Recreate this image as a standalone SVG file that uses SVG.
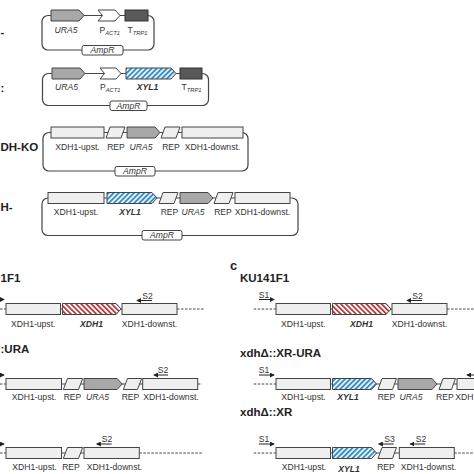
<svg xmlns="http://www.w3.org/2000/svg" width="474" height="474" viewBox="0 0 474 474">
<style>
text{font-family:"Liberation Sans",Arial,sans-serif;fill:#333}
.bx{fill:#efefef;stroke:#444;stroke-width:1}
.ura{fill:#a8a8a8;stroke:#444;stroke-width:1}
.trp{fill:#595959;stroke:#333;stroke-width:1}
.pro{fill:#fff;stroke:#444;stroke-width:1}
.xyl{fill:url(#hb);stroke:#444;stroke-width:1}
.xdh{fill:url(#hr);stroke:#444;stroke-width:1}
.bb{fill:none;stroke:#444;stroke-width:1.2}
.ln{fill:none;stroke:#444;stroke-width:1}
.dash{fill:none;stroke:#444;stroke-width:1;stroke-dasharray:2.5 1.5}
.amp{fill:#fff;stroke:#444;stroke-width:1}
.pr{stroke:#222;stroke-width:1;marker-end:url(#ah)}
.lbl{font-size:8.6px;text-anchor:middle}
.st{text-anchor:start}
.it{font-style:italic}
.bi{font-style:italic;font-weight:bold}
.sub{font-size:5.8px;font-style:italic}
.ttl{font-size:11.5px;font-weight:bold;fill:#222}
</style>
<defs>
<pattern id="hb" width="3.6" height="3.6" patternUnits="userSpaceOnUse" patternTransform="rotate(45)">
<rect width="3.6" height="3.6" fill="#e4f2fa"/><rect width="1.7" height="3.6" fill="#2f87c0"/>
</pattern>
<pattern id="hr" width="3.6" height="3.6" patternUnits="userSpaceOnUse" patternTransform="rotate(-45)">
<rect width="3.6" height="3.6" fill="#ffffff"/><rect width="1.7" height="3.6" fill="#b83232"/>
</pattern>
<marker id="ah" viewBox="0 0 6 6" refX="5" refY="3" markerWidth="5" markerHeight="5" markerUnits="userSpaceOnUse" orient="auto">
<path d="M0,0 L6,3 L0,6 Z" fill="#222"/>
</marker>
</defs>

<g id="connectors">
<rect class="bb" x="42" y="15.5" width="112" height="34.5" rx="6"/>
<rect class="bb" x="42.5" y="73.5" width="166" height="32" rx="6"/>
<rect class="bb" x="43" y="132.5" width="205" height="38.5" rx="6"/>
<rect class="bb" x="42" y="198" width="256" height="37.5" rx="6"/>
<path class="ln" d="M6,309 H177 M6,384 H197.7 M6,453 H139.3 M276,309 H447 M276,384 H474 M276,453 H454.3"/>
<path class="dash" d="M0,309 H6 M177,309 H204 M0,384 H6 M197.7,384 H202 M0,453 H6 M139.3,453 H202 M253.7,309 H276 M447,309 H474 M253.7,384 H276 M253.7,453 H276 M454.3,453 H474"/>
</g>

<g id="titles">
<text class="ttl" x="0.5" y="36">-</text>
<text class="ttl" x="0.5" y="92">:</text>
<text class="ttl" x="0.5" y="151">DH-KO</text>
<text class="ttl" x="0.5" y="211">H-</text>
<text class="ttl" x="0.5" y="282">1F1</text>
<text class="ttl" x="0.5" y="353">:URA</text>
<text class="ttl" x="230" y="269.5" style="font-size:13px">c</text>
<text class="ttl" x="240" y="282">KU141F1</text>
<text class="ttl" x="240" y="356.5">xdhΔ::XR-URA</text>
<text class="ttl" x="240" y="416">xdhΔ::XR</text>
</g>

<g id="plasmid1">
<path class="ura" d="M51,10 H79 L84,15.5 L79,21 H51 Z"/>
<path class="pro" d="M98,10 H115 L120,15.5 L115,21 H98 L102.5,15.5 Z"/>
<rect class="trp" x="125" y="10" width="23" height="11"/>
<rect class="amp" x="82" y="45.5" width="41" height="9.5" rx="2"/>
<text class="lbl it" x="102.5" y="53.3">AmpR</text>
<text class="lbl it" x="66" y="33">URA5</text>
<text class="lbl st" x="99.5" y="33">P<tspan class="sub" dy="2">ACT1</tspan></text>
<text class="lbl st" x="127.5" y="33">T<tspan class="sub" dy="2">TRP1</tspan></text>
</g>

<g id="plasmid2">
<path class="ura" d="M52,68 H80 L85,73.5 L80,79 H52 Z"/>
<path class="pro" d="M100,68 H116 L121,73.5 L116,79 H100 L104.5,73.5 Z"/>
<path class="xyl" d="M126,68 H171 L176,73.5 L171,79 H126 Z"/>
<rect class="trp" x="180" y="68" width="22" height="11"/>
<rect class="amp" x="110" y="101" width="37" height="9.5" rx="2"/>
<text class="lbl it" x="128.5" y="108.8">AmpR</text>
<text class="lbl it" x="66.5" y="90">URA5</text>
<text class="lbl st" x="100" y="90">P<tspan class="sub" dy="2">ACT1</tspan></text>
<text class="lbl bi" x="147.5" y="90">XYL1</text>
<text class="lbl st" x="181.5" y="90">T<tspan class="sub" dy="2">TRP1</tspan></text>
</g>

<g id="plasmid3">
<rect class="bx" x="51" y="127" width="53" height="11"/>
<path class="bx" d="M106,138 L110,127 H125 L121,138 Z"/>
<path class="ura" d="M127,127 H155 L160,132.5 L155,138 H127 Z"/>
<path class="bx" d="M161,138 L165,127 H180 L176,138 Z"/>
<rect class="bx" x="182" y="127" width="61" height="11"/>
<rect class="amp" x="115" y="166.5" width="40" height="9.5" rx="2"/>
<text class="lbl it" x="135" y="174.3">AmpR</text>
<text class="lbl" x="77.5" y="150">XDH1-upst.</text>
<text class="lbl" x="116" y="150">REP</text>
<text class="lbl it" x="141" y="150">URA5</text>
<text class="lbl" x="171" y="150">REP</text>
<text class="lbl" x="212.5" y="150">XDH1-downst.</text>
</g>

<g id="plasmid4">
<rect class="bx" x="48" y="192.5" width="56" height="11"/>
<path class="xyl" d="M107,192.5 H152 L157,198 L152,203.5 H107 Z"/>
<path class="bx" d="M159,203.5 L163,192.5 H178 L174,203.5 Z"/>
<path class="ura" d="M180,192.5 H208 L213,198 L208,203.5 H180 Z"/>
<path class="bx" d="M214,203.5 L218,192.5 H233 L229,203.5 Z"/>
<rect class="bx" x="235" y="192.5" width="55" height="11"/>
<rect class="amp" x="142" y="230.5" width="40" height="9.5" rx="2"/>
<text class="lbl it" x="162" y="238.3">AmpR</text>
<text class="lbl" x="76" y="215">XDH1-upst.</text>
<text class="lbl bi" x="130" y="215">XYL1</text>
<text class="lbl" x="169.5" y="215">REP</text>
<text class="lbl it" x="193" y="215">URA5</text>
<text class="lbl" x="223" y="215">REP</text>
<text class="lbl" x="262.5" y="215">XDH1-downst.</text>
</g>

<g id="b-ku141f1">
<rect class="bx" x="6" y="303.5" width="54.5" height="11"/>
<path class="xdh" d="M62.5,303.5 H116 L121,309 L116,314.5 H62.5 Z"/>
<rect class="bx" x="122" y="303.5" width="55" height="11"/>
<line class="pr" x1="-11" y1="299.5" x2="4" y2="299.5"/>
<line class="pr" x1="152" y1="300.5" x2="137" y2="300.5"/>
<text class="lbl" x="147.5" y="298.5">S2</text>
<text class="lbl" x="33.2" y="326.5">XDH1-upst.</text>
<text class="lbl bi" x="91.5" y="326.5">XDH1</text>
<text class="lbl" x="149.5" y="326.5">XDH1-downst.</text>
</g>

<g id="b-ura">
<rect class="bx" x="6" y="378.5" width="55.5" height="11"/>
<path class="bx" d="M63.3,389.5 L67.5,378.5 H82.7 L78.5,389.5 Z"/>
<path class="ura" d="M84,378.5 H117 L122.3,384 L117,389.5 H84 Z"/>
<path class="bx" d="M123.3,389.5 L127.5,378.5 H141.7 L137.5,389.5 Z"/>
<rect class="bx" x="142.7" y="378.5" width="55" height="11"/>
<line class="pr" x1="-11" y1="375" x2="4" y2="375"/>
<line class="pr" x1="168" y1="375" x2="154" y2="375"/>
<text class="lbl" x="163" y="373">S2</text>
<text class="lbl" x="34" y="399.5">XDH1-upst.</text>
<text class="lbl" x="72.5" y="399.5">REP</text>
<text class="lbl it" x="97.5" y="399.5">URA5</text>
<text class="lbl" x="130.5" y="399.5">REP</text>
<text class="lbl" x="171" y="399.5">XDH1-downst.</text>
</g>

<g id="b-ko">
<rect class="bx" x="6" y="447.5" width="55.5" height="11"/>
<path class="bx" d="M63.3,458.5 L67.5,447.5 H82.7 L78.5,458.5 Z"/>
<rect class="bx" x="84" y="447.5" width="55.3" height="11"/>
<line class="pr" x1="-11" y1="444" x2="4" y2="444"/>
<line class="pr" x1="111.7" y1="444" x2="96.7" y2="444"/>
<text class="lbl" x="107" y="442">S2</text>
<text class="lbl" x="34.5" y="470">XDH1-upst.</text>
<text class="lbl" x="71" y="470">REP</text>
<text class="lbl" x="114.5" y="470">XDH1-downst.</text>
</g>

<g id="c-ku141f1">
<rect class="bx" x="276" y="303.5" width="54.5" height="11"/>
<path class="xdh" d="M332.5,303.5 H386 L391,309 L386,314.5 H332.5 Z"/>
<rect class="bx" x="392" y="303.5" width="55" height="11"/>
<line class="pr" x1="259" y1="299.5" x2="274" y2="299.5"/>
<text class="lbl" x="264" y="297.5">S1</text>
<line class="pr" x1="422" y1="300.5" x2="407" y2="300.5"/>
<text class="lbl" x="417.5" y="298.5">S2</text>
<text class="lbl" x="303.2" y="326.5">XDH1-upst.</text>
<text class="lbl bi" x="361.5" y="326.5">XDH1</text>
<text class="lbl" x="419.5" y="326.5">XDH1-downst.</text>
</g>

<g id="c-xr-ura">
<rect class="bx" x="276" y="378.5" width="54.5" height="11"/>
<path class="xyl" d="M332.5,378.5 H371.5 L376.5,384 L371.5,389.5 H332.5 Z"/>
<path class="bx" d="M378,389.5 L382,378.5 H396.5 L392.5,389.5 Z"/>
<path class="ura" d="M398,378.5 H432 L437,384 L432,389.5 H398 Z"/>
<path class="bx" d="M439,389.5 L443,378.5 H455.5 L451.5,389.5 Z"/>
<rect class="bx" x="457" y="378.5" width="30" height="11"/>
<line class="pr" x1="259" y1="375" x2="274" y2="375"/>
<text class="lbl" x="264" y="373">S1</text>
<line class="pr" x1="482" y1="375" x2="467" y2="375"/>
<text class="lbl" x="303.5" y="399.5">XDH1-upst.</text>
<text class="lbl bi" x="348" y="399.5">XYL1</text>
<text class="lbl" x="386.5" y="399.5">REP</text>
<text class="lbl it" x="411" y="399.5">URA5</text>
<text class="lbl" x="444.8" y="399.5">REP</text>
<text class="lbl st" x="455.3" y="399.5">XDH</text>
</g>

<g id="c-xr">
<rect class="bx" x="276" y="447.5" width="54.5" height="11"/>
<path class="xyl" d="M332.5,447.5 H371.5 L376.5,453 L371.5,458.5 H332.5 Z"/>
<path class="bx" d="M378,458.5 L382,447.5 H396.5 L392.5,458.5 Z"/>
<rect class="bx" x="399.3" y="447.5" width="55" height="11"/>
<line class="pr" x1="259" y1="444" x2="274" y2="444"/>
<text class="lbl" x="264" y="442">S1</text>
<line class="pr" x1="393.7" y1="444" x2="378.7" y2="444"/>
<text class="lbl" x="389.5" y="442">S3</text>
<line class="pr" x1="425.3" y1="444" x2="410.3" y2="444"/>
<text class="lbl" x="421" y="442">S2</text>
<text class="lbl" x="304" y="470">XDH1-upst.</text>
<text class="lbl bi" x="349" y="472">XYL1</text>
<text class="lbl" x="386" y="470">REP</text>
<text class="lbl" x="428.5" y="470">XDH1-downst.</text>
</g>
</svg>
